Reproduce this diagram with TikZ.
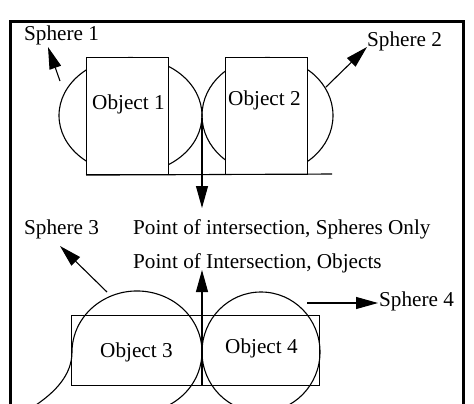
\documentclass[tikz,border=0pt]{standalone}
\usepackage{fontspec}
\setmainfont{Liberation Serif}
\usetikzlibrary{arrows.meta}
\begin{document}
\begin{tikzpicture}[x=1pt,y=-1pt,
  lbl/.style={anchor=base west,inner sep=0pt,font=\fontsize{21.2}{24}\selectfont},
  obj/.style={draw,fill=white,line width=1.1pt,inner sep=0pt,anchor=north west},
  sph/.style={line width=1.1pt},
  arr/.style={line width=1.1pt,-{Triangle[length=22pt,width=12pt]}},
  frame/.style={line width=3pt}]
\useasboundingbox (0,0) rectangle (474,404);
\clip (0,0) rectangle (474,404);
% frame
\coordinate (fbl) at (10.5,405);
\coordinate (ftl) at (10.5,22);
\coordinate (ftr) at (463.5,22);
\coordinate (fbr) at (463.5,405);
\draw[frame] (fbl) -- (ftl) -- (ftr) -- (fbr);
% top spheres
\draw[sph] (130.5,115.5) ellipse [x radius=71.5, y radius=58];
\draw[sph] (267.5,115.5) ellipse [x radius=65.5, y radius=58];
% top objects
\node[obj, minimum width=82pt, minimum height=117pt] (o1) at (86,57) {};
\node[obj, minimum width=82pt, minimum height=117pt] (o2) at (225,57) {};
\coordinate (bend) at (332,174);
\draw[sph] (o1.south west) -- (bend);
\node[lbl] (t1) at (92,110) {Object 1};
\node[lbl] (t2) at (228,106) {Object 2};
% top labels and arrows
\node[lbl] (s1) at (24,41) {Sphere 1};
\node[lbl] (s2) at (367,47) {Sphere 2};
\coordinate (a1t) at (60,81);
\coordinate (a1h) at (48,47);
\draw[arr] (a1t) -- (a1h);
\coordinate (a2t) at (326,87);
\draw[arr] (a2t) -- (s2.base west);
\coordinate (x12) at (202,118);
\coordinate (x12d) at (202,208);
\draw[arr] (x12) -- (x12d);
% middle labels
\node[lbl] (s3) at (24,234) {Sphere 3};
\node[lbl] (p1) at (133,234) {Point of intersection, Spheres Only};
\node[lbl] (p2) at (133,268) {Point of Intersection, Objects};
% bottom spheres
\draw[sph] (169.5,404.8) arc[start angle=60, end angle=-180, x radius=65, y radius=61]
  .. controls (72,375) and (55,392) .. (36,405);
\draw[sph] (261,352) ellipse [x radius=59, y radius=60];
% bottom object
\node[obj, fill=none, minimum width=248pt, minimum height=70pt] (o34) at (71,315) {};
\node[lbl] (t3) at (100,357) {Object 3};
\node[lbl] (t4) at (225,353) {Object 4};
\coordinate (x34) at (202,385);
\coordinate (x34u) at (202,270);
\draw[arr] (x34) -- (x34u);
\coordinate (a3t) at (107,292);
\coordinate (a3h) at (60,246);
\draw[arr] (a3t) -- (a3h);
\node[lbl] (s4) at (379,306) {Sphere 4};
\coordinate (a4t) at (307,303);
\coordinate (a4h) at (378,303);
\draw[arr] (a4t) -- (a4h);
\end{tikzpicture}
\end{document}
